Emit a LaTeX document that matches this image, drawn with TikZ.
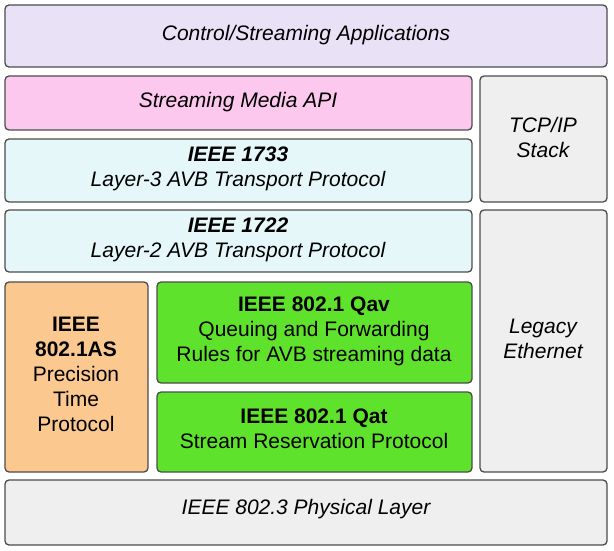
\documentclass[tikz,border=0pt]{standalone}
\usepackage{fontspec}
\setmainfont{Liberation Sans}
\begin{document}
\begin{tikzpicture}[x=1pt,y=-1pt,
 box/.style={draw=black!70,line width=1.3pt,rounded corners=4pt},
 it/.style={font=\fontsize{21}{25}\selectfont\itshape,align=center},
 up/.style={font=\fontsize{21}{25}\selectfont,align=center}]
\useasboundingbox (0,0) rectangle (614,551);
\definecolor{lav}{HTML}{E9E2F7}
\definecolor{pinkc}{HTML}{FDC8EE}
\definecolor{cyanc}{HTML}{E6F7FA}
\definecolor{grayc}{HTML}{EFEFEF}
\definecolor{orangec}{HTML}{FBC88F}
\definecolor{greenc}{HTML}{5FE22B}
\newcommand\bx[6]{\draw[box,fill=#6] (#2,#3) rectangle (#4,#5);}
\bx{a}{5}{5}{607}{67}{lav}
\bx{b}{5}{76}{472}{130}{pinkc}
\bx{c}{480}{76}{607}{202}{grayc}
\bx{d}{5}{139}{472}{202}{cyanc}
\bx{e}{5}{210}{472}{272}{cyanc}
\bx{f}{480}{210}{607}{472}{grayc}
\bx{g}{5}{282}{148}{472}{orangec}
\bx{h}{157}{282}{472}{383}{greenc}
\bx{i}{157}{392}{472}{472}{greenc}
\bx{j}{5}{480}{607}{545}{grayc}
\node[it] (ta) at (306,35) {Control/Streaming Applications};
\node[it] (tb) at (238,102) {Streaming Media API};
\node[it] (tc) at (543,137) {TCP/IP\\Stack};
\node[it] (td) at (238,169) {\textbf{IEEE 1733}\\Layer-3 AVB Transport Protocol};
\node[it] (te) at (238,240) {\textbf{IEEE 1722}\\Layer-2 AVB Transport Protocol};
\node[it] (tf) at (543,339) {Legacy\\Ethernet};
\node[up] (tg) at (76,374) {\textbf{IEEE}\\\textbf{802.1AS}\\Precision\\Time\\Protocol};
\node[up] (th) at (314,331) {\textbf{IEEE 802.1 Qav}\\Queuing and Forwarding\\Rules for AVB streaming data};
\node[up] (ti) at (314,429) {\textbf{IEEE 802.1 Qat}\\Stream Reservation Protocol};
\node[it] (tj) at (306,509) {IEEE 802.3 Physical Layer};
\end{tikzpicture}
\end{document}
